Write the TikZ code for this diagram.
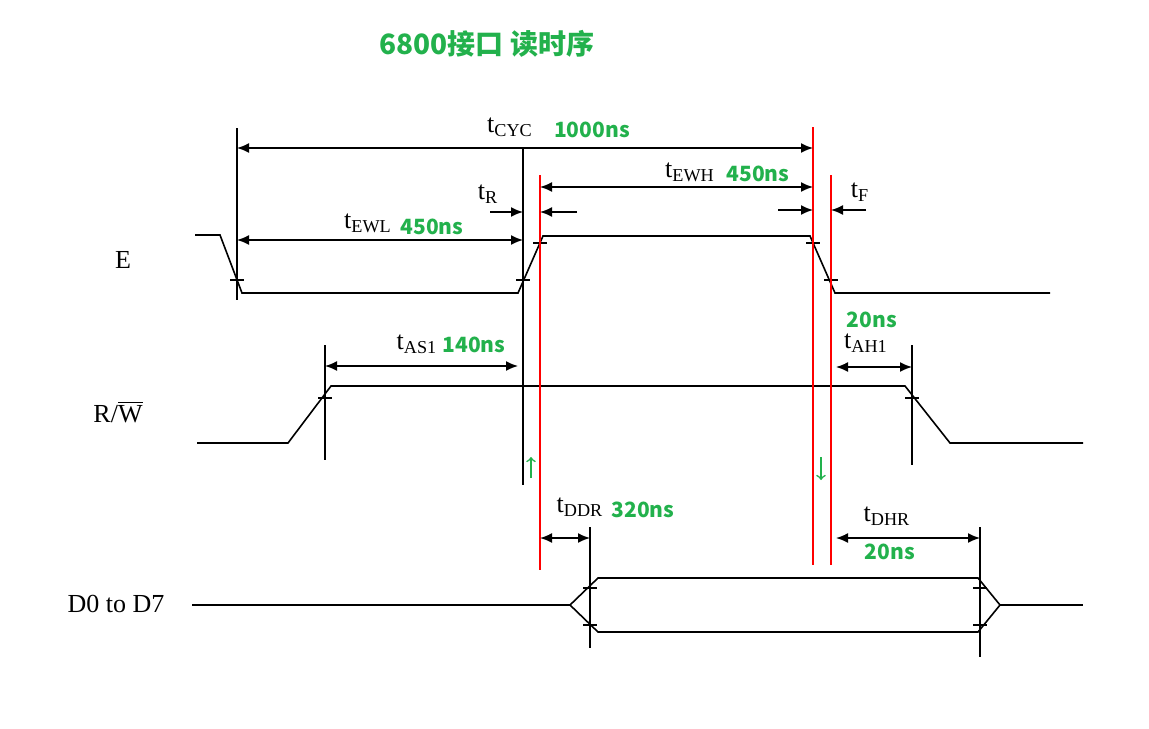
\documentclass[tikz,border=0pt]{standalone}
\usepackage{fontspec}
\setmainfont{Liberation Serif}
\newfontfamily\cjk{Noto Sans CJK SC}
\usetikzlibrary{positioning,arrows,arrows.meta}
\definecolor{tgreen}{RGB}{34,177,76}
\tikzstyle{sig}=[line width=0.8pt]
\tikzstyle{tick}=[line width=0.8pt]
\tikzstyle{redline}=[line width=0.9pt, red]
\tikzstyle{dim}=[line width=0.8pt, {Latex[length=6pt,width=5pt]}-{Latex[length=6pt,width=5pt]}]
\tikzstyle{pt}=[line width=0.8pt, -{Latex[length=6pt,width=5pt]}]
\tikzstyle{lbl}=[font=\fontsize{13}{15}\selectfont, inner sep=0pt]
\tikzstyle{val}=[font=\cjk\bfseries\fontsize{10.5}{12}\selectfont, text=tgreen, inner sep=0pt]
\begin{document}
\begin{tikzpicture}[x=0.5pt, y=-0.5pt]
            \useasboundingbox (0,0) rectangle (1149,728);
            % title
            \node (title)[val, font=\cjk\bfseries\fontsize{14}{16}\selectfont] at (487,44) {6800接口 读时序};
            % signal names
            \node (E)[lbl] at (123,260) {E};
            \node (RW)[lbl] at (118,412) {R/$\overline{\mbox{W}}$};
            \node (D)[lbl] at (116,604) {D0 to D7};
            % waveforms
            \draw[sig] (195,235) -- (220,235) -- (242,293) -- (518,293) -- (543,236)
                -- (810,236) -- (835,293) -- (1050,293);
            \draw[sig] (197,443) -- (288,443) -- (331,386) -- (905,386) -- (950,443) -- (1083,443);
            \draw[sig] (192,605) -- (570,605) -- (598,578) -- (978,578) -- (1000,605)
                -- (978,632) -- (598,632) -- (570,605);
            \draw[sig] (1000,605) -- (1083,605);
            % crossing marks
            \foreach \x/\y in {237/280, 523/280, 540/243, 813/243, 831/280, 325/398, 912/398,
                               590/588, 590/625, 980/588, 980/625}
                \draw[tick] (\x-7,\y) -- (\x+7,\y);
            % reference lines
            \draw[sig] (237,128) -- (237,300);
            \draw[sig] (523,148) -- (523,485);
            \draw[sig] (325,345) -- (325,460);
            \draw[sig] (912,345) -- (912,465);
            \draw[sig] (590,527) -- (590,648);
            \draw[sig] (980,527) -- (980,657);
            \draw[redline] (540,175) -- (540,570);
            \draw[redline] (813,127) -- (813,565);
            \draw[redline] (831,175) -- (831,565);
            % end points
            \coordinate (cyc1) at (237,148);  \coordinate (cyc2) at (813,148);
            \coordinate (ewh1) at (540,187);  \coordinate (ewh2) at (813,187);
            \coordinate (ewl1) at (237,240);  \coordinate (ewl2) at (523,240);
            \coordinate (as1) at (325,366);   \coordinate (as2) at (518,366);
            \coordinate (ah1) at (836,367);   \coordinate (ah2) at (912,367);
            \coordinate (ddr1) at (540,538);  \coordinate (ddr2) at (590,538);
            \coordinate (dhr1) at (836,538);  \coordinate (dhr2) at (980,538);
            \coordinate (r0) at (490,212);    \coordinate (r1) at (523,212);
            \coordinate (r2) at (577,212);    \coordinate (r3) at (540,212);
            \coordinate (f0) at (778,210);    \coordinate (f1) at (813,210);
            \coordinate (f2) at (866,210);    \coordinate (f3) at (831,210);
            \coordinate (up0) at (531,478);   \coordinate (up1) at (531,457);
            \coordinate (dn0) at (821,457);   \coordinate (dn1) at (821,480);
            % timing arrows
            \draw[dim] (cyc1) -- (cyc2);
            \draw[dim] (ewh1) -- (ewh2);
            \draw[dim] (ewl1) -- (ewl2);
            \draw[dim] (as1) -- (as2);
            \draw[dim] (ah1) -- (ah2);
            \draw[dim] (ddr1) -- (ddr2);
            \draw[dim] (dhr1) -- (dhr2);
            \draw[pt] (r0) -- (r1);
            \draw[pt] (r2) -- (r3);
            \draw[pt] (f0) -- (f1);
            \draw[pt] (f2) -- (f3);
            \draw[line width=0.8pt, tgreen, -to] (up0) -- (up1);
            \draw[line width=0.8pt, tgreen, -to] (dn0) -- (dn1);
            % labels
            \node (tcyc)[lbl] at (510,127) {t\textsubscript{CYC}};
            \node (vcyc)[val] at (592,130) {1000ns};
            \node (tewh)[lbl] at (690,172) {t\textsubscript{EWH}};
            \node (vewh)[val] at (758,174) {450ns};
            \node (tr)[lbl] at (488,194) {t\textsubscript{R}};
            \node (tf)[lbl] at (860,192) {t\textsubscript{F}};
            \node (tewl)[lbl] at (368,223) {t\textsubscript{EWL}};
            \node (vewl)[val] at (432,227) {450ns};
            \node (tas)[lbl] at (417,344) {t\textsubscript{AS1}};
            \node (vas)[val] at (474,345) {140ns};
            \node (vah)[val] at (872,320) {20ns};
            \node (tah)[lbl] at (866,343) {t\textsubscript{AH1}};
            \node (tddr)[lbl] at (580,507) {t\textsubscript{DDR}};
            \node (vddr)[val] at (643,510) {320ns};
            \node (tdhr)[lbl] at (887,516) {t\textsubscript{DHR}};
            \node (vdhr)[val] at (890,552) {20ns};
\end{tikzpicture}
\end{document}
